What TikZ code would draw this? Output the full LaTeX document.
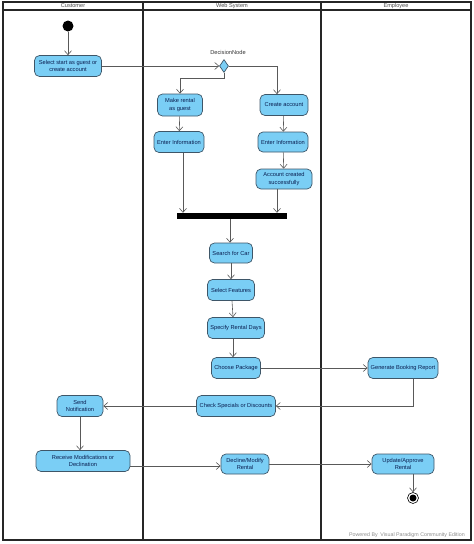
\documentclass[tikz,border=0pt]{standalone}
\usepackage{fontspec}
\setmainfont{Liberation Sans}
\usetikzlibrary{shapes.geometric,arrows.meta}

\definecolor{actfill}{RGB}{122,206,245}
\definecolor{actline}{RGB}{62,86,104}
\definecolor{acttext}{RGB}{10,30,80}

\tikzset{
  act/.style={draw=actline, fill=actfill, rounded corners=5pt, line width=.7pt,
    text=acttext, align=center, inner sep=1pt, minimum height=21pt,
    font=\fontsize{5.7}{7.8}\selectfont},
  flow/.style={draw=black!65, line width=.6pt, -{Straight Barb[length=4pt,width=7pt]}},
  lane/.style={draw=black!85, line width=1.1pt},
  lanetitle/.style={font=\fontsize{5.6}{6}\selectfont, text=black!70, inner sep=0pt}
}

\begin{document}
\begin{tikzpicture}[x=1pt, y=-1pt]
             \useasboundingbox (0,0) rectangle (474,544);

             % swimlanes
             \draw[lane] (3,2) rectangle (471,540);
             \draw[lane] (3,10) -- (471,10);
             \draw[lane] (143,2) -- (143,540);
             \draw[lane] (321,2) -- (321,540);
             \node[lanetitle] (tcust) at (73,6) {Customer};
             \node[lanetitle] (tweb) at (232,6) {Web System};
             \node[lanetitle] (temp) at (396,6) {Employee};

             % start, decision
             \node[circle, fill=black, minimum size=11pt, inner sep=0pt] (start) at (68,26) {};
             \node[act, minimum width=67pt] (sel) at (68,66) {Select start as guest or\\create account};
             \node[diamond, draw=actline, fill=actfill, line width=.7pt, inner sep=0pt,
                   minimum width=9pt, minimum height=13pt] (dec) at (224,66) {};
             \node[lanetitle, text=black!80, font=\fontsize{5.7}{6}\selectfont] (declabel) at (228,52) {DecisionNode};

             % guest / account branch
             \node[act, minimum width=45pt, minimum height=22pt] (guest) at (180,105) {Make rental\\as guest};
             \node[act, minimum width=48pt] (create) at (284,105) {Create account};
             \node[act, minimum width=50pt] (info1) at (179,142) {Enter Information};
             \node[act, minimum width=50pt, minimum height=20pt] (info2) at (283,142) {Enter Information};
             \node[act, minimum width=56pt, minimum height=20pt] (acc) at (284,179) {Account created\\successfully};
             \node[fill=black, minimum width=110pt, minimum height=6pt, inner sep=0pt] (bar) at (232,216) {};

             % main flow
             \node[act, minimum width=43pt, minimum height=20pt] (search) at (231,253) {Search for Car};
             \node[act, minimum width=47pt] (feat) at (231,290) {Select Features};
             \node[act, minimum width=57pt] (days) at (236,328) {Specify Rental Days};
             \node[act, minimum width=49pt] (pack) at (236,368) {Choose Package};
             \node[act, minimum width=70pt] (report) at (403,368) {Generate Booking Report};
             \node[act, minimum width=79pt] (check) at (236,406) {Check Specials or Discounts};
             \node[act, minimum width=46pt] (notif) at (80,406) {Send\\Notification};
             \node[act, minimum width=94pt] (recv) at (83,461) {Receive Modifications or\\Declination};
             \node[act, minimum width=48pt, minimum height=20pt] (decl) at (245,464) {Decline/Modify\\Rental};
             \node[act, minimum width=62pt, minimum height=20pt] (upd) at (403,464) {Update/Approve\\Rental};
             \node[circle, draw=black, line width=.6pt, fill=white, minimum size=11pt, inner sep=0pt] (final) at (413,498) {};
             \node[circle, fill=black, minimum size=7pt, inner sep=0pt] (finaldot) at (final) {};

             % connectors
             \draw[flow] (start) -- (sel);
             \draw[flow] (sel.east) -- (dec.west);
             \draw[flow] (dec.south) -- ++(0,5) -| (guest.north);
             \draw[flow] (dec.east) -| ([xshift=-7pt]create.north);
             \draw[flow] (guest) -- (info1);
             \draw[flow] (create) -- (info2);
             \draw[flow] (info2) -- (acc);
             \draw[flow] ([xshift=4pt]info1.south) -- ([xshift=4pt]info1.south |- bar.north);
             \draw[flow] ([xshift=-7pt]acc.south) -- ([xshift=-7pt]acc.south |- bar.north);
             \draw[flow] ([xshift=-2pt]bar.south) -- ([xshift=-1pt]search.north);
             \draw[flow] (search) -- (feat);
             \draw[flow] ([xshift=1pt]feat.south) -- ([xshift=-3pt]days.north);
             \draw[flow] ([xshift=-3pt]days.south) -- ([xshift=-3pt]pack.north);
             \draw[flow] (pack) -- (report);
             \draw[flow] ([xshift=10pt]report.south) |- (check.east);
             \draw[flow] (check) -- (notif);
             \draw[flow] (notif.south) -- (notif.south |- recv.north);
             \draw[flow] ([yshift=-5pt]recv.east) -- ([yshift=-5pt]recv.east -| decl.west);
             \draw[flow] (decl) -- (upd);
             \draw[flow] (upd.south -| final) -- (final);

             \node[font=\fontsize{5.3}{6}\selectfont, text=black!45, anchor=east, inner sep=0pt] (vp) at (465,535) {Powered By\enspace Visual Paradigm Community Edition};
             \end{tikzpicture}
\end{document}
